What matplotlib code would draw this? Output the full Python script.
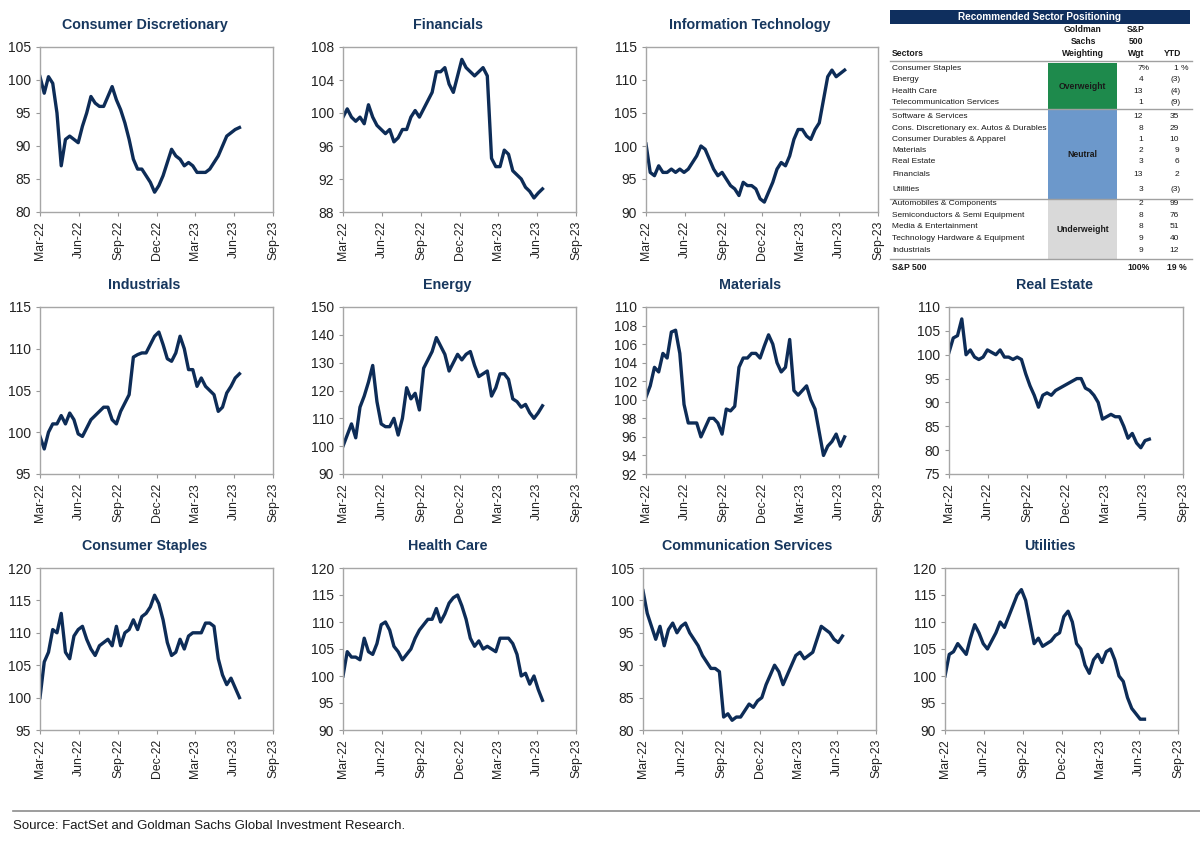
import pandas as pd
import matplotlib
matplotlib.use("Agg")
import matplotlib.pyplot as plt
import matplotlib.dates as mdates
from matplotlib.patches import Rectangle

plt.rcParams['font.family'] = ['Liberation Sans', 'DejaVu Sans']

# dates of the sampled points (every 10 days)
dates = pd.date_range('2022-03-01', periods=48, freq='10D')

cons_disc = [100.5, 98, 100.5, 99.5, 95, 87, 91, 91.5, 91, 90.5,
             93, 95, 97.5, 96.5, 96, 96, 97.5, 99, 97, 95.5,
             93.5, 91, 88, 86.5, 86.5, 85.5, 84.5, 83, 84, 85.5,
             87.5, 89.5, 88.5, 88, 87, 87.5, 87, 86, 86, 86,
             86.5, 87.5, 88.5, 90, 91.5, 92, 92.5, 92.8]
financials = [99.5, 100.5, 99.5, 99, 99.5, 98.7, 101, 99.5, 98.5, 98,
              97.5, 98, 96.5, 97, 98, 98, 99.5, 100.3, 99.5, 100.5,
              101.5, 102.5, 105, 105, 105.5, 103.5, 102.5, 104.5, 106.5, 105.5,
              105, 104.5, 105, 105.5, 104.5, 94.5, 93.5, 93.5, 95.5, 95,
              93, 92.5, 92, 91, 90.5, 89.7, 90.3, 90.8]
info_tech = [100.3, 96, 95.5, 97, 96, 96, 96.5, 96, 96.5, 96,
             96.5, 97.5, 98.5, 100, 99.5, 98, 96.5, 95.5, 96, 95,
             94, 93.5, 92.5, 94.5, 94, 94, 93.5, 92, 91.5, 93,
             94.5, 96.5, 97.5, 97, 98.5, 101, 102.5, 102.5, 101.5, 101,
             102.5, 103.5, 107, 110.5, 111.5, 110.5, 111, 111.5]
industrials = [99.5, 98, 100, 101, 101, 102, 101, 102.3, 101.5, 99.8,
               99.5, 100.5, 101.5, 102, 102.5, 103, 103, 101.5, 101, 102.5,
               103.5, 104.5, 109, 109.3, 109.5, 109.5, 110.5, 111.5, 112, 110.5,
               108.8, 108.5, 109.5, 111.5, 110, 107.5, 107.5, 105.5, 106.5, 105.5,
               105, 104.5, 102.5, 103, 104.7, 105.5, 106.5, 107]
energy = [100, 104, 108, 103, 114, 118, 123, 129, 116, 108,
          107, 107, 110, 104, 110, 121, 117, 119, 113, 128,
          131, 134, 139, 136, 133, 127, 130, 133, 131, 133,
          134, 129, 125, 126, 127, 118, 121, 126, 126, 124,
          117, 116, 114, 115, 112, 110, 112, 114.5]
materials = [100.3, 101.5, 103.5, 103, 105, 104.5, 107.3, 107.5, 105, 99.5,
             97.5, 97.5, 97.5, 96, 97, 98, 98, 97.5, 96.3, 99,
             98.8, 99.3, 103.5, 104.5, 104.5, 105, 105, 104.5, 105.8, 107,
             106, 104, 103, 103.5, 106.5, 101, 100.5, 101, 101.5, 100,
             99, 96.5, 94, 95, 95.5, 96.3, 95, 96]
real_estate = [100.5, 103.5, 104, 107.5, 100, 101, 99.5, 99, 99.5, 101,
               100.5, 100, 101, 99.5, 99.5, 99, 99.5, 99, 96, 93.5,
               91.5, 89, 91.5, 92, 91.5, 92.5, 93, 93.5, 94, 94.5,
               95, 95, 93, 92.5, 91.5, 90, 86.5, 87, 87.5, 87,
               87, 85, 82.5, 83.5, 81.5, 80.5, 82, 82.3]
staples = [100, 105.5, 107, 110.5, 110, 113, 107, 106, 109.5, 110.5,
           111, 109, 107.5, 106.5, 108, 108.5, 109, 108, 111, 108,
           110, 110.5, 112, 110.5, 112.5, 113, 114, 115.8, 114.5, 112,
           108.5, 106.5, 107, 109, 107.5, 109.5, 110, 110, 110, 111.5,
           111.5, 111, 106, 103.5, 102, 103, 101.5, 100]
health_care = [100, 104.5, 103.5, 103.5, 103, 107, 104.5, 104, 106, 109.5,
               110, 108.5, 105.5, 104.5, 103, 104, 105, 107, 108.5, 109.5,
               110.5, 110.5, 112.5, 110, 111.5, 113.5, 114.5, 115, 113, 110.5,
               107, 105.5, 106.5, 105, 105.5, 105, 104.5, 107, 107, 107,
               106, 104, 100, 100.5, 98.5, 100, 97.5, 95.5]
comm_services = [101.5, 98, 96, 94, 96, 93, 95.5, 96.5, 95, 96,
                 96.5, 95, 94, 93, 91.5, 90.5, 89.5, 89.5, 89, 82,
                 82.5, 81.5, 82, 82, 83, 84, 83.5, 84.5, 85, 87,
                 88.5, 90, 89, 87, 88.5, 90, 91.5, 92, 91, 91.5,
                 92, 94, 96, 95.5, 95, 94, 93.5, 94.5]
utilities = [100, 104, 104.5, 106, 105, 104, 107, 109.5, 108, 106,
             105, 106.5, 108, 110, 109, 111, 113, 115, 116, 114,
             110, 106, 107, 105.5, 106, 106.5, 107.5, 108, 111, 112,
             110, 106, 105, 102, 100.5, 103, 104, 102.5, 104.5, 105,
             103, 100, 99, 96, 94, 93, 92, 92]

# (title, series, ymin, ymax, ystep)
panels = [
    ('Consumer Discretionary', cons_disc, 80, 105, 5),
    ('Financials', financials, 88, 108, 4),
    ('Information Technology', info_tech, 90, 115, 5),
    ('Industrials', industrials, 95, 115, 5),
    ('Energy', energy, 90, 150, 10),
    ('Materials', materials, 92, 110, 2),
    ('Real Estate', real_estate, 75, 110, 5),
    ('Consumer Staples', staples, 95, 120, 5),
    ('Health Care', health_care, 90, 120, 5),
    ('Communication Services', comm_services, 80, 105, 5),
    ('Utilities', utilities, 90, 120, 5),
]

# table data
sectors = ['Consumer Staples', 'Energy', 'Health Care', 'Telecommunication Services',
           'Software & Services', 'Cons. Discretionary ex. Autos & Durables',
           'Consumer Durables & Apparel', 'Materials', 'Real Estate', 'Financials',
           'Utilities', 'Automobiles & Components', 'Semiconductors & Semi Equipment',
           'Media & Entertainment', 'Technology Hardware & Equipment', 'Industrials']
wgt = ['7%', '4', '13', '1', '12', '8', '1', '2', '3', '13', '3', '2', '8', '8', '9', '9']
ytd = ['1 %', '(3)', '(4)', '(9)', '35', '29', '10', '9', '6', '2', '(3)', '99', '76', '51', '40', '12']
groups = ['Overweight', 'Neutral', 'Underweight']
group_colors = ['#1E8A4C', '#6C98CB', '#D9D9D9']

W, H = 1200, 841
NAVY = '#0D2C57'
TXT = '#1A1A1A'
fig = plt.figure(figsize=(12, 8.41), dpi=100)


def rect(l, t, r, b):
    return [l / W, 1 - b / H, (r - l) / W, (b - t) / H]


rows_px = [(47, 212), (307, 474), (568, 730)]
cols_px = [[(40, 273), (343, 576), (646, 878)],
           [(40, 273), (343, 576), (646, 878), (949, 1183)],
           [(40, 273), (343, 576), (643, 876), (945, 1178)]]
slots = [(r, c) for r in range(3) for c in range(len(cols_px[r]))]

for (title, vals, y0, y1, ys), (r, c) in zip(panels, slots):
    l, rr = cols_px[r][c]
    t, b = rows_px[r]
    ax = fig.add_axes(rect(l, t, rr, b))
    ax.plot(dates, vals, color=NAVY, lw=2.4)
    ax.set_xlim(pd.Timestamp('2022-03-01'), pd.Timestamp('2023-09-01'))
    ax.set_ylim(y0, y1)
    ax.set_yticks(range(y0, y1 + 1, ys))
    ax.xaxis.set_major_locator(mdates.MonthLocator(bymonth=[3, 6, 9, 12]))
    ax.xaxis.set_major_formatter(mdates.DateFormatter('%b-%y'))
    ax.tick_params(axis='x', rotation=90, labelsize=8.8, length=3, color='#999999', labelcolor='#222222')
    ax.tick_params(axis='y', labelsize=10, length=3, color='#999999', labelcolor='#222222')
    for s in ax.spines.values():
        s.set_color('#A6A6A6')
        s.set_linewidth(1)
    # titles sit a little left of the plot centre, as in the original
    ax.text(0.5 - 12 / (rr - l), 1 + 22 / (b - t), title, transform=ax.transAxes,
            ha='center', va='center', fontsize=10.3, fontweight='bold', color='#17375E')

# sector positioning table, drawn in pixel coordinates
tab = fig.add_axes(rect(886, 8, 1198, 282))
tab.set_xlim(886, 1198)
tab.set_ylim(282, 8)
tab.axis('off')
fs = 6.0
fb = 6.2
tab.add_patch(Rectangle((890, 10), 300, 14, color='#0F2F5E', lw=0))
tab.text(1040, 17, 'Recommended Sector Positioning', ha='center', va='center',
         color='white', fontsize=7.2, fontweight='bold')
for i, w in enumerate(['Goldman', 'Sachs', 'Weighting']):
    tab.text(1083, 30 + 12 * i, w, ha='center', va='center', fontsize=fb, fontweight='bold', color=TXT)
for i, w in enumerate(['S&P', '500', 'Wgt']):
    tab.text(1136, 30 + 12 * i, w, ha='center', va='center', fontsize=fb, fontweight='bold', color=TXT)
tab.text(1173, 54, 'YTD', ha='center', va='center', fontsize=fb, fontweight='bold', color=TXT)
tab.text(892, 54, 'Sectors', ha='left', va='center', fontsize=fb, fontweight='bold', color=TXT)

row_y = [68.5, 80, 91.5, 103, 117, 128.5, 140, 151, 162, 175, 190, 204, 216, 227, 239, 251]
group_span = [(63, 110), (110, 200), (200, 259)]
for g, col, (gt, gb) in zip(groups, group_colors, group_span):
    tab.add_patch(Rectangle((1048, gt), 69, gb - gt, color=col, lw=0))
    tab.text(1082.5, (gt + gb) / 2, g, ha='center', va='center', fontsize=fb,
             fontweight='bold', color=TXT)
for yl in [61.5, 109, 199.5, 259]:
    tab.plot([890, 1192], [yl, yl], color='#A0A0A0', lw=1)
for y, s, w, v in zip(row_y, sectors, wgt, ytd):
    tab.text(892, y, s, ha='left', va='center', fontsize=fs, color=TXT)
    tab.text(1150 if '%' in w else 1143, y, w, ha='right', va='center', fontsize=fs, color=TXT)
    tab.text(1188 if '%' in v else (1181 if '(' in v else 1179), y, v, ha='right', va='center',
             fontsize=fs, color=TXT)
tab.text(892, 267.5, 'S&P 500', ha='left', va='center', fontsize=fb, fontweight='bold', color=TXT)
tab.text(1150, 267.5, '100%', ha='right', va='center', fontsize=fb, fontweight='bold', color=TXT)
tab.text(1187, 267.5, '19 %', ha='right', va='center', fontsize=fb, fontweight='bold', color=TXT)

# source footer
fig.add_artist(plt.Line2D([13 / W, 1.0], [1 - 811 / H, 1 - 811 / H], color='#8C8C8C', lw=1.2))
fig.text(13 / W, 1 - 826 / H, 'Source: FactSet and Goldman Sachs Global Investment Research.',
         ha='left', va='center', fontsize=9.5, color=TXT)

fig.savefig('out.png', dpi=100, facecolor='white')
